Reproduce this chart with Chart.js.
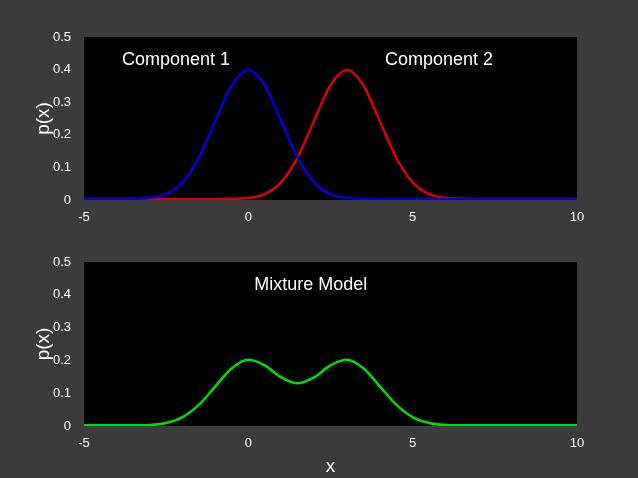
<!DOCTYPE html>
<html><head><script src="https://cdn.jsdelivr.net/npm/chart.js@4"></script>
<style>body{margin:0;background:#3b3b3b;width:638px;height:478px;overflow:hidden}canvas{position:absolute;left:0}</style></head>
<body><canvas id="c1" width="638" height="239" style="top:0"></canvas><canvas id="c2" width="638" height="239" style="top:239px"></canvas>
<script>
const xs=[-5,-4.5,-4,-3.5,-3,-2.5,-2,-1.5,-1,-0.5,0,0.5,1,1.5,2,2.5,3,3.5,4,4.5,5,5.5,6,6.5,7,7.5,8,8.5,9,9.5,10];
const comp1=[0.003,0.003,0.003,0.004,0.006,0.018,0.054,0.130,0.242,0.352,0.399,0.352,0.242,0.130,0.054,0.018,0.006,0.004,0.003,0.003,0.003,0.003,0.003,0.003,0.003,0.003,0.003,0.003,0.003,0.003,0.003];
const comp2=[0.003,0.003,0.003,0.003,0.003,0.003,0.003,0.003,0.003,0.004,0.006,0.018,0.054,0.130,0.242,0.352,0.399,0.352,0.242,0.130,0.054,0.018,0.006,0.004,0.003,0.003,0.003,0.003,0.003,0.003,0.003];
const mixture=[0.002,0.002,0.002,0.002,0.003,0.009,0.027,0.065,0.121,0.176,0.202,0.185,0.148,0.130,0.148,0.185,0.202,0.176,0.121,0.065,0.027,0.009,0.003,0.002,0.002,0.002,0.002,0.002,0.002,0.002,0.002];
const xTicks=[-5,0,5,10];
const labels1=[{t:'Component 1',x:-2.2,y:0.43},{t:'Component 2',x:5.8,y:0.43}];
const labels2=[{t:'Mixture Model',x:1.9,y:0.43}];
const F='"Liberation Sans", Arial, sans-serif';
const pts=a=>a.map((v,i)=>({x:xs[i],y:v}));
const bg={id:'bg',beforeDraw(c){const a=c.chartArea,g=c.ctx;g.save();g.fillStyle='#000';g.fillRect(a.left,a.top,a.right-a.left,a.bottom-a.top);g.restore();},
afterDatasetsDraw(c){const g=c.ctx;g.save();g.fillStyle='#fff';g.font='18px '+F;g.textAlign='center';g.textBaseline='middle';
(c.options.plugins.txt||[]).forEach(l=>g.fillText(l.t,c.scales.x.getPixelForValue(l.x),c.scales.y.getPixelForValue(l.y)));g.restore();}};
function mk(id,ds,txt,top,xh,xtitle){
new Chart(document.getElementById(id),{type:'line',data:{datasets:ds.map(d=>({data:pts(d.v),borderColor:d.c,borderWidth:2.5,pointRadius:0,cubicInterpolationMode:'monotone'}))},
options:{responsive:false,animation:false,devicePixelRatio:1,layout:{padding:{top:top,right:61,left:32,bottom:0}},
plugins:{legend:{display:false},tooltip:{enabled:false},txt:txt},
scales:{x:{type:'linear',min:-5,max:10,afterBuildTicks:s=>{s.ticks=xTicks.map(v=>({value:v}))},afterFit:s=>{s.height=xh},
grid:{display:false},border:{display:false},ticks:{color:'#fff',font:{family:F,size:13},padding:2,maxRotation:0},
title:{display:xtitle,text:'x',color:'#fff',font:{family:F,size:19},padding:0}},
y:{min:0,max:0.5,afterFit:s=>{s.width=52},grid:{display:false},border:{display:false},
ticks:{stepSize:0.1,color:'#fff',font:{family:F,size:13},padding:5,callback:v=>v===0?'0':v.toFixed(1)},
title:{display:true,text:'p(x)',color:'#fff',font:{family:F,size:19},padding:0}}}},plugins:[bg]});}
mk('c1',[{v:comp1,c:'#0000dd'},{v:comp2,c:'#dd0000'}],labels1,37,39,false);
mk('c2',[{v:mixture,c:'#00dd00'}],labels2,23,52,true);
</script></body></html>
